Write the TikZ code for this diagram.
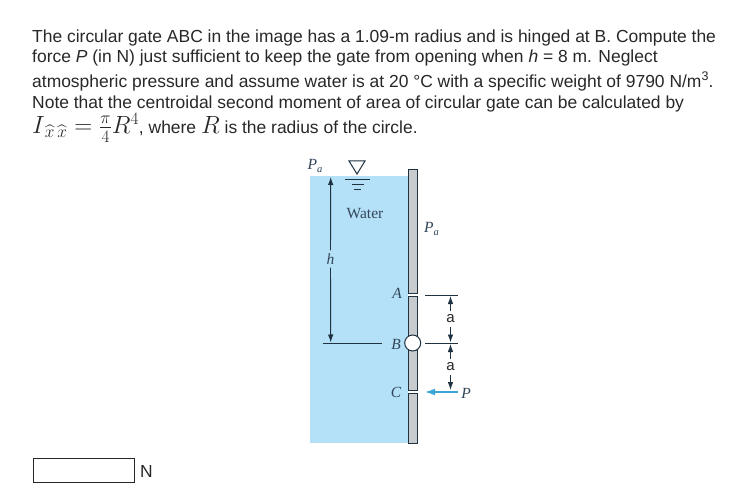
\documentclass[tikz,border=0pt]{standalone}
\usepackage{fontspec}
\usepackage{amsmath}
\setmainfont{Liberation Sans}
\newfontfamily\serifit[Ligatures=TeX]{Liberation Serif}
\DeclareMathSizes{23}{23}{16}{12}
\usetikzlibrary{arrows.meta}
\definecolor{waterblue}{RGB}{180,225,248}
\definecolor{wallgray}{RGB}{200,203,205}
\definecolor{darkline}{RGB}{30,50,65}
\definecolor{labelink}{RGB}{50,70,90}
\definecolor{pblue}{RGB}{60,165,215}
\definecolor{textink}{RGB}{40,40,40}
\newcommand{\mathbig}[1]{{\fontsize{23}{24}\selectfont$#1$}}
\tikzset{
  x=1pt,y=-1pt,
  textline/.style={anchor=base west,inner sep=0pt,text=textink,font=\fontsize{17.45}{19}\selectfont},
  figlabel/.style={inner sep=0pt,text=labelink,font=\fontsize{15.5}{17}\serifit\itshape},
  wallpiece/.style={draw=darkline,fill=wallgray,line width=1pt},
  dimline/.style={draw=darkline,line width=1pt},
  dimarrow/.style={draw=darkline,line width=0.9pt,-{Latex[length=8pt,width=5.5pt]}},
  dimletter/.style={inner sep=0pt,outer sep=4pt,text=textink,font=\fontsize{15}{16}\selectfont},
}
\begin{document}
\begin{tikzpicture}
\useasboundingbox (0,0) rectangle (734,492);
\fill[white] (0,0) rectangle (734,492);
% question text
\node[textline] (l1) at (32,42.5) {The circular gate ABC in the image has a 1.09-m radius and is hinged at B. Compute the};
\node[textline] (l2) at (32,62.5) {force \textit{P} (in N) just sufficient to keep the gate from opening when \textit{h} = 8 m. Neglect};
\node[textline] (l3) at (32,87.5) {atmospheric pressure and assume water is at 20 °C with a specific weight of 9790 N/m\raisebox{6.5pt}{\fontsize{12.5}{13}\selectfont 3}.};
\node[textline] (l4) at (32,108.5) {Note that the centroidal second moment of area of circular gate can be calculated by};
\node[textline] (l5) at (32,133.5) {\mathbig{I_{\mkern2mu\widehat{x}\,\widehat{x}}=\frac{\pi}{4}R^{4}}, where \mathbig{R} is the radius of the circle.};
% water
\fill[waterblue] (310,176) rectangle (408,443);
% wall
\draw[wallpiece] (408,169.5) rectangle (417,293);
\draw[wallpiece] (408,296) rectangle (417,390);
\draw[wallpiece] (408,393) rectangle (417,443);
\node[circle,draw=darkline,fill=white,line width=1pt,minimum size=16pt,inner sep=0pt] (hinge) at (412.7,343) {};
% free surface symbol
\draw[darkline,line width=1pt,fill=white] (349,161) -- (365,161) -- (357,174) -- cycle;
\coordinate (s1a) at (345,179.5); \coordinate (s1b) at (370,179.5);
\coordinate (s2a) at (352,184.5); \coordinate (s2b) at (364,184.5);
\coordinate (s3a) at (354,190); \coordinate (s3b) at (361,190);
\draw[dimline] (s1a) -- (s1b);
\draw[dimline] (s2a) -- (s2b);
\draw[dimline] (s3a) -- (s3b);
% labels
\node[figlabel] (pa1) at (315,166) {P\raisebox{-2.5pt}{\fontsize{10.5}{11}\selectfont a}};
\node[figlabel] (pa2) at (431.5,229) {P\raisebox{-2.5pt}{\fontsize{10.5}{11}\selectfont a}};
\node[inner sep=0pt,text=labelink,font=\fontsize{15.5}{17}\serifit] (water) at (365,214) {Water};
\node[figlabel,fill=waterblue,inner sep=3pt] (h) at (330.5,259) {h};
\node[figlabel] (A) at (397,293) {A};
\node[figlabel] (B) at (396,344) {B};
\node[figlabel] (C) at (396,392) {C};
\node[figlabel] (P) at (466,393) {P};
% h dimension
\coordinate (htop) at (330.7,177);
\coordinate (hbot) at (330.7,342.5);
\coordinate (hla) at (323,343); \coordinate (hlb) at (382,343);
\draw[dimline] (hla) -- (hlb);
\draw[dimarrow] (h) -- (htop);
\draw[dimarrow] (h) -- (hbot);
% right dimensions
\coordinate (ra1) at (425,295); \coordinate (ra2) at (458,295);
\coordinate (rb1) at (425,343); \coordinate (rb2) at (458,343);
\draw[dimline] (ra1) -- (ra2);
\draw[dimline] (rb1) -- (rb2);
\node[dimletter] (a1) at (450.5,319) {a};
\node[dimletter] (a2) at (450.5,367) {a};
\coordinate (d1) at (450.5,296); \coordinate (d2) at (450.5,342.5);
\coordinate (d3) at (450.5,344); \coordinate (d4) at (450.5,390);
\draw[dimarrow] (a1) -- (d1);
\draw[dimarrow] (a1) -- (d2);
\draw[dimarrow] (a2) -- (d3);
\draw[dimarrow] (a2) -- (d4);
% P arrow
\coordinate (pa) at (458,392); \coordinate (pb) at (425,392);
\draw[draw=pblue,line width=1.6pt,-{Latex[length=10pt,width=7pt]}] (pa) -- (pb);
% answer box
\node[draw=black!85,line width=1.3pt,fill=white,minimum width=101pt,minimum height=24pt,inner sep=0pt,anchor=north west] (box) at (33,458) {};
\node[textline,anchor=west] (N) at (140,471) {N};
\end{tikzpicture}
\end{document}
